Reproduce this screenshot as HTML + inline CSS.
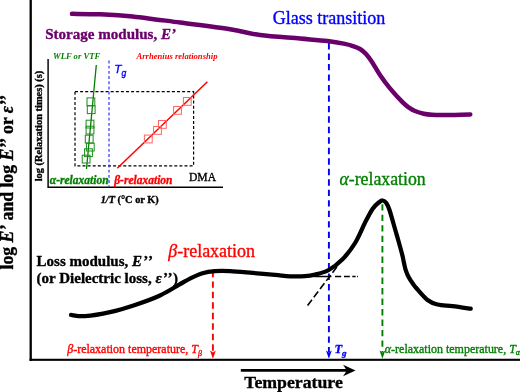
<!DOCTYPE html>
<html><head><meta charset="utf-8">
<style>
html,body{margin:0;padding:0;background:#fff;overflow:hidden;}
svg{display:block;}
text{font-family:"Liberation Serif",serif;stroke-width:0.35px;stroke-linejoin:round;}
.b{font-weight:bold;}
.i{font-style:italic;}
.sans{font-family:"Liberation Sans",sans-serif;}
</style></head><body>
<svg width="520" height="392" viewBox="0 0 520 392">
<rect width="520" height="392" fill="#fff"/>
<!-- inset -->
<g id="inset">
<path d="M48.1 59 V187.2 H223" fill="none" stroke="#000" stroke-width="1.45"/>
<rect x="75" y="91.7" width="118.6" height="74.2" fill="none" stroke="#000" stroke-width="1.2" stroke-dasharray="3 2.1"/>
<path d="M109 60.5 V186.5" stroke="#3333ff" stroke-width="1.2" stroke-dasharray="2.9 2.3" fill="none"/>
<path d="M96.3 65 L86.5 169" stroke="#007f00" stroke-width="1.3" fill="none"/>
<g fill="none" stroke="#1a8c1a" stroke-width="1"><rect x="87" y="97.9" width="7.8" height="7.8"/><rect x="87.3" y="105.8" width="7.8" height="7.8"/><rect x="86.1" y="120.2" width="7.8" height="7.8"/><rect x="86.1" y="126.2" width="7.8" height="7.8"/><rect x="85.3" y="135.2" width="7.8" height="7.8"/><rect x="86.4" y="143.2" width="7.8" height="7.8"/><rect x="84.6" y="148.8" width="7.8" height="7.8"/><rect x="82.2" y="155.2" width="7.8" height="7.8"/></g>
<path d="M207.4 81.8 L117.3 168.3" stroke="#ff0000" stroke-width="1.5" fill="none"/>
<g fill="none" stroke="#ff6666" stroke-width="1"><rect x="183.4" y="97.5" width="7.8" height="7.8"/><rect x="173.6" y="106.5" width="7.8" height="7.8"/><rect x="158.5" y="120.5" width="7.8" height="7.8"/><rect x="153.6" y="126.5" width="7.8" height="7.8"/><rect x="144.4" y="135.1" width="7.8" height="7.8"/></g>
<text class="b i" x="53" y="58.6" font-size="8.6" fill="#007f00" stroke="none">WLF or VTF</text>
<text class="b i" x="136.5" y="58.6" font-size="8.6" fill="#ff0000" stroke="none">Arrhenius relationship</text>
<text class="i sans" x="114.3" y="73.2" font-size="11.8" fill="#0000ff" stroke="#0000ff" stroke-width="0.55">T<tspan font-size="8.6" dy="2.5">g</tspan></text>
<text class="b i" x="49.8" y="183.8" font-size="11.5" fill="#007f00" stroke="#007f00">α-relaxation</text>
<text class="b i" x="114.2" y="183.8" font-size="11.5" fill="#ff0000" stroke="#ff0000">β-relaxation</text>
<text x="189" y="180.5" font-size="11.6" fill="#000" stroke="#000">DMA</text>
<text class="b" x="100.7" y="202.5" font-size="10.3" fill="#000" stroke="#000"><tspan class="i">1/T</tspan> (°C or K)</text>
<text class="b" transform="translate(42.2,181.3) rotate(-90)" font-size="10.4" fill="#000" stroke="#000">log (Relaxation times) (s)</text>
</g>
<!-- main axes -->
<rect x="29.55" y="0" width="2.3" height="360.85" fill="#000"/><rect x="29.55" y="358.75" width="490.45" height="2.1" fill="#000"/>
<!-- y label -->
<text class="b" transform="translate(12.6,269.5) rotate(-90) scale(1.004,1.06)" font-size="17.6" fill="#000" stroke="#000">log <tspan class="i">E’</tspan> and log <tspan class="i">E’’</tspan> or <tspan class="i">ε’’</tspan></text>
<!-- x label -->
<text class="b" x="244.2" y="387.6" font-size="17.75" fill="#000" stroke="#000">Temperature</text>
<path d="M240.8 370.4 H347" stroke="#000" stroke-width="2.6" fill="none"/>
<path d="M355.5 370.5 L343.1 364.8 L346.8 370.5 L343.1 376.2 Z" fill="#000"/>
<!-- dashed verticals -->
<path d="M328.9 43 V352" stroke="#0000ff" stroke-width="1.9" stroke-dasharray="6.4 4.08" fill="none"/>
<path d="M328.9 358.8 L326 350.5 L328.9 352.5 L331.8 350.5 Z" fill="#0000ff"/>
<path d="M382.4 204.2 V352" stroke="#007f00" stroke-width="1.9" stroke-dasharray="6.4 4.08" fill="none"/>
<path d="M382.4 358.8 L379.5 350.5 L382.4 352.5 L385.3 350.5 Z" fill="#007f00"/>
<path d="M212.9 270.9 V352" stroke="#ff0000" stroke-width="1.9" stroke-dasharray="6.4 4.08" fill="none"/>
<path d="M212.9 358.8 L210 350.5 L212.9 352.5 L215.8 350.5 Z" fill="#ff0000"/>
<!-- tangent dashes -->
<path d="M307.6 305.5 L336.9 266.8" stroke="#000" stroke-width="1.6" stroke-dasharray="7.2 3.1" fill="none"/>
<path d="M314 276.6 H331.4 M335 276.6 H341.2 M344 276.6 H349.8 M352.3 276.6 H355.6 M356.9 276.6 H357.8" stroke="#000" stroke-width="1.5" fill="none"/>
<!-- storage curve -->
<path d="M72 13.85 C76.67 13.93 90.33 13.97 100 14.35 C109.67 14.73 116.67 14.78 130 16.15 C143.33 17.52 163.33 20.37 180 22.55 C196.67 24.73 216.67 27.17 230 29.25 C243.33 31.33 248.33 33.5 260 35.05 C271.67 36.6 288.75 37.55 300 38.55 C311.25 39.55 320 40.16 327.5 41.05 C335 41.94 340.75 43.06 345 43.9 C349.25 44.74 350.5 45.25 353 46.1 C355.5 46.95 357.83 47.68 360 49 C362.17 50.32 364 51.83 366 54 C368 56.17 369.67 58.5 372 62 C374.33 65.5 377 70.6 380 75 C383 79.4 386.25 83.87 390 88.4 C393.75 92.93 399.33 99 402.5 102.2 C405.67 105.4 406.92 106.13 409 107.6 C411.08 109.07 412.53 109.98 415 111 C417.47 112.02 420.97 113.07 423.8 113.7 C426.63 114.33 428.97 114.57 432 114.8 C435.03 115.03 438.17 115.08 442 115.1 C445.83 115.12 450.28 115 455 114.9 C459.72 114.8 467.75 114.57 470.3 114.5" fill="none" stroke="#6a006a" stroke-width="4.5" stroke-linecap="round" stroke-linejoin="round"/>
<!-- loss curve -->
<path d="M71 314.95 C73.33 315.15 78.5 316.62 85 316.15 C91.5 315.68 101.67 314.02 110 312.15 C118.33 310.28 126.67 307.73 135 304.95 C143.33 302.17 152.5 298.91 160 295.45 C167.5 291.99 175 287.01 180 284.2 C185 281.39 186.25 280.42 190 278.6 C193.75 276.78 198.33 274.53 202.5 273.3 C206.67 272.07 210.42 271.55 215 271.2 C219.58 270.85 223.75 270.92 230 271.2 C236.25 271.48 245 272.3 252.5 272.9 C260 273.5 268.75 274.23 275 274.8 C281.25 275.37 285 276.07 290 276.3 C295 276.53 300.83 276.48 305 276.2 C309.17 275.92 311.05 275.63 315 274.6 C318.95 273.57 324.12 272.55 328.7 270 C333.28 267.45 338.05 263.88 342.5 259.3 C346.95 254.72 351.63 248.63 355.4 242.5 C359.17 236.37 362.22 228.13 365.1 222.5 C367.98 216.87 370.42 212.03 372.7 208.7 C374.98 205.37 377.12 203.87 378.8 202.5 C380.48 201.13 381.55 200.42 382.8 200.5 C384.05 200.58 385.18 201.42 386.3 203 C387.42 204.58 388 205.5 389.5 210 C391 214.5 393.85 225 395.3 230 C396.75 235 397.03 235.83 398.2 240 C399.37 244.17 401.33 251.17 402.3 255 C403.27 258.83 403.42 260.43 404 263 C404.58 265.57 405.03 268.07 405.8 270.4 C406.57 272.73 407.47 274.85 408.6 277 C409.73 279.15 411.33 281.47 412.6 283.3 C413.87 285.13 413.72 285.22 416.2 288 C418.68 290.78 423.95 297.25 427.5 300 C431.05 302.75 433.33 303.47 437.5 304.5 C441.67 305.53 446.97 305.5 452.5 306.2 C458.03 306.9 467.67 308.28 470.7 308.7" fill="none" stroke="#000" stroke-width="4.25" stroke-linecap="round" stroke-linejoin="round"/>
<!-- labels -->
<text class="b" x="45.2" y="39.2" font-size="15.05" fill="#6a006a" stroke="#6a006a">Storage modulus, <tspan class="i">E’</tspan></text>
<text x="272.7" y="23.9" font-size="18.05" fill="#0000ff" stroke="#0000ff">Glass transition</text>
<text x="339.4" y="184.7" font-size="17.8" fill="#007f00" stroke="#007f00"><tspan class="i">α</tspan>-relaxation</text>
<text x="168.2" y="256.7" font-size="18" fill="#ff0000" stroke="#ff0000"><tspan class="i">β</tspan>-relaxation</text>
<text class="b" x="36.6" y="266" font-size="15" fill="#000" stroke="#000">Loss modulus, <tspan class="i" letter-spacing="0.8">E’’</tspan></text>
<text class="b" x="36.6" y="283" font-size="15" fill="#000" stroke="#000">(or Dielectric loss, <tspan class="i" letter-spacing="0.8">ε’’</tspan>)</text>
<text transform="translate(67.2,352.9) scale(1,1.08)" font-size="12" fill="#ff0000" stroke="#ff0000" stroke-width="0.25"><tspan class="i">β</tspan>-relaxation temperature, <tspan class="i">T<tspan font-size="8" dy="2.5">β</tspan></tspan></text>
<text transform="translate(384.8,352.5) scale(1,1.08)" font-size="12" fill="#007f00" stroke="#007f00" stroke-width="0.25"><tspan class="i">α</tspan>-relaxation temperature, <tspan class="i">T<tspan font-size="8" dy="2.5">α</tspan></tspan></text>
<text class="b i" x="334.4" y="353" font-size="12.5" fill="#0000ff" stroke="#0000ff">T<tspan font-size="9" dy="2.5">g</tspan></text>
</svg>
</body></html>
